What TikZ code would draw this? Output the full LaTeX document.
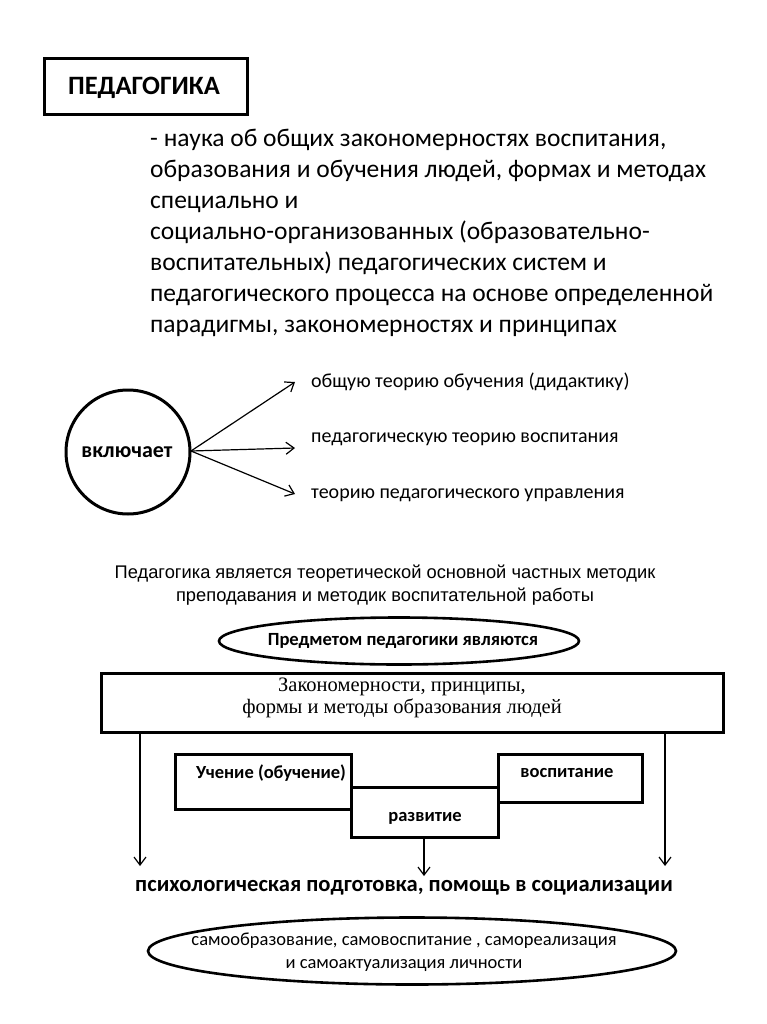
\documentclass[tikz,border=0pt]{standalone}
\usepackage{fontspec}
\setmainfont{Carlito}
\newfontfamily\arialf{Liberation Sans}
\newfontfamily\timesf{Liberation Serif}
\usetikzlibrary{arrows.meta,shapes.geometric}
\begin{document}
\begin{tikzpicture}[x=1pt,y=-1pt,
  thickbox/.style={draw,line width=3pt},
  midbox/.style={draw,line width=2.6pt},
  arr/.style={line width=1.2pt,-{Straight Barb[length=8pt,width=12pt]}},
  plain/.style={inner sep=0pt}]
\useasboundingbox (0,0) rectangle (767,1024);
% title box
\node[thickbox,minimum width=203pt,minimum height=56pt,anchor=north west] (title) at (43,57) {};
\node[plain,font=\bfseries\fontsize{26.5}{26.5}\selectfont] (titletxt) at (144,88) {ПЕДАГОГИКА};
% definition
\node[plain,anchor=north west,align=left,font=\fontsize{25.5}{31}\selectfont] (def) at (150,129)
 {- наука об общих закономерностях воспитания,\\
 образования и обучения людей, формах и методах\\
 специально и\\
 социально-организованных (образовательно-\\
 воспитательных) педагогических систем и\\
 педагогического процесса на основе определенной\\
 парадигмы, закономерностях и принципах};
% circle
\node[draw,circle,line width=3pt,minimum size=124pt] (inc) at (128,452) {};
\node[plain,font=\bfseries\fontsize{22}{22}\selectfont] (inctxt) at (127,452) {включает};
\coordinate (o) at (191,451);
\node[plain,anchor=west,font=\fontsize{20}{20}\selectfont] (t1) at (311,382) {общую теорию обучения (дидактику)};
\node[plain,anchor=west,font=\fontsize{20}{20}\selectfont] (t2) at (311,439) {педагогическую теорию воспитания};
\node[plain,anchor=west,font=\fontsize{20}{20}\selectfont] (t3) at (311,495) {теорию педагогического управления};
\coordinate (a1) at (295,382);
\coordinate (a2) at (295,448);
\coordinate (a3) at (295,494);
\draw[arr] (o) -- (a1);
\draw[arr] (o) -- (a2);
\draw[arr] (o) -- (a3);
% arial statement
\node[plain,align=center,font=\arialf\fontsize{18.3}{23}\selectfont] (stmt) at (385,585)
 {Педагогика является теоретической основной частных методик\\
  преподавания и методик воспитательной работы};
% ellipse
\node[draw,ellipse,line width=2.6pt,minimum width=360pt,minimum height=47pt,inner sep=0pt] (subj) at (399,641) {};
\node[plain,font=\bfseries\fontsize{18.6}{18.6}\selectfont] (subjtxt) at (403,641) {Предметом педагогики являются};
% big box
\node[midbox,minimum width=622pt,minimum height=59pt,anchor=north west] (big) at (100,672) {};
\node[plain,align=center,font=\timesf\fontsize{20.5}{22}\selectfont] (bigtxt) at (402,698)
 {Закономерности, принципы,\\ формы и методы образования людей};
% three boxes
\node[midbox,minimum width=176pt,minimum height=55pt,anchor=north west] (learn) at (174,753) {};
\node[plain,font=\bfseries\fontsize{18.5}{18.5}\selectfont] (learntxt) at (271,773) {Учение (обучение)};
\node[midbox,minimum width=147pt,minimum height=50pt,anchor=north west] (dev) at (350,786) {};
\node[plain,font=\bfseries\fontsize{18.5}{18.5}\selectfont] (devtxt) at (425,818) {развитие};
\node[midbox,minimum width=144pt,minimum height=48pt,anchor=north west] (edu) at (497,753) {};
\node[plain,font=\bfseries\fontsize{18.5}{18.5}\selectfont] (edutxt) at (567,773) {воспитание};
% arrows down
\coordinate (l0) at (140,731);
\coordinate (l1) at (140,866);
\coordinate (r0) at (665,731);
\coordinate (r1) at (665,866);
\coordinate (m1) at (424,876);
\draw[arr] (l0) -- (l1);
\draw[arr] (r0) -- (r1);
\draw[arr] (dev.south -| m1) -- (m1);
% bottom text
\node[plain,font=\bfseries\fontsize{22.6}{22.6}\selectfont] (psy) at (404,888) {психологическая подготовка, помощь в социализации};
\node[draw,ellipse,line width=2.6pt,minimum width=528pt,minimum height=67pt,inner sep=0pt] (self) at (412,951) {};
\node[plain,align=center,font=\fontsize{18.5}{23}\selectfont] (selftxt) at (404,952)
 {самообразование, самовоспитание , самореализация\\ и самоактуализация личности};
\end{tikzpicture}
\end{document}
